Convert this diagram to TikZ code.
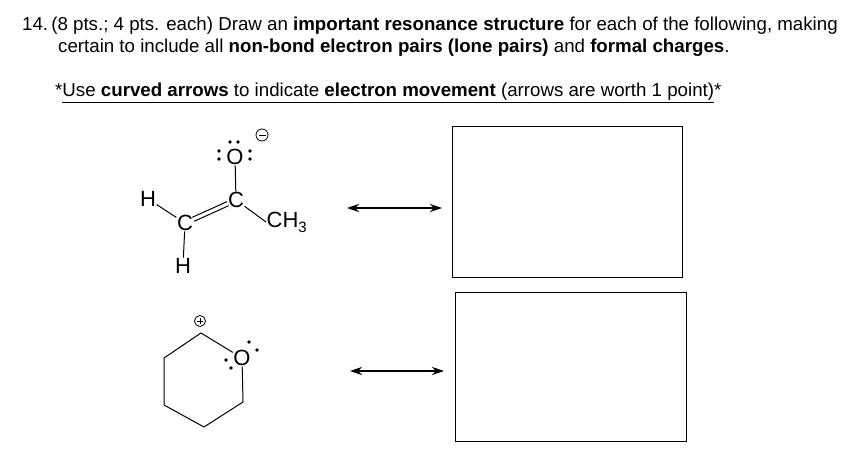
\documentclass[tikz,border=0pt]{standalone}
\usepackage{fontspec}
\setmainfont{Liberation Sans}
\usetikzlibrary{arrows.meta,calc}
\begin{document}
\begin{tikzpicture}[x=1pt,y=-1pt,
  txt/.style={anchor=base west,inner sep=0,font=\fontsize{18.7}{22}\selectfont},
  atom/.style={inner sep=0.5,font=\fontsize{22}{24}\selectfont},
  bond/.style={line width=1pt},
  dot/.style={fill=black,circle,inner sep=0,minimum size=3.8pt},
  ansbox/.style={draw,line width=1pt},
  res/.style={line width=1.1pt,{Stealth[length=12pt,width=8pt]}-{Stealth[length=12pt,width=8pt]}}]
\useasboundingbox (0,0) rectangle (851,457);
\node[txt] (l1) at (22,31) {14.\,(8 pts.; 4 pts. each) Draw an \textbf{important resonance structure} for each of the following, making};
\node[txt] (l2) at (58,53) {certain to include all \textbf{non-bond electron pairs (lone pairs)} and \textbf{formal charges}.};
\node[txt] (l3) at (55,97) {*\underline{Use \textbf{curved arrows} to indicate \textbf{electron movement} (arrows are worth 1 point)}*};
% molecule 1
\node[atom] (O) at (235,157) {O};
\node[atom] (C2) at (236,200) {C};
\node[atom] (C1) at (185,223) {C};
\node[atom] (H1) at (148,199) {H};
\node[atom] (H2) at (183,266) {H};
\node[atom,anchor=west] (CH3) at (266,222) {CH\raisebox{-5pt}{\fontsize{15}{16}\selectfont 3}};
\draw[bond] (O) -- (C2);
\draw[bond] (C1) -- (H1);
\draw[bond] (C1) -- (H2);
\draw[bond] (C2) -- (CH3.west);
\draw[bond] ($(C1)!9pt!(C2)!2.2pt!90:(C2)$) -- ($(C2)!9pt!(C1)!2.2pt!-90:(C1)$);
\draw[bond] ($(C1)!9pt!(C2)!2.2pt!-90:(C2)$) -- ($(C2)!9pt!(C1)!2.2pt!90:(C1)$);
\node[dot] (d1) at (230,142) {}; \node[dot] (d2) at (238,142) {};
\node[dot] (d3) at (219,151) {}; \node[dot] (d4) at (219,159) {};
\node[dot] (d5) at (250,151) {}; \node[dot] (d6) at (250,159) {};
\node[draw,circle,minimum size=12pt,inner sep=0,line width=0.8pt] (m) at (262,135) {};
\draw[line width=0.9pt] ([xshift=-3.5pt]m.center) -- ([xshift=3.5pt]m.center);
% ring
\coordinate (r1) at (201,333);
\node[atom] (O2) at (242,358) {O};
\coordinate (r3) at (243,402);
\coordinate (r4) at (204,427);
\coordinate (r5) at (164,405);
\coordinate (r6) at (164,358);
\draw[bond,line join=round] (O2) -- (r1) -- (r6) -- (r5) -- (r4) -- (r3) -- (O2);
\node[dot] (e1) at (226,360) {}; \node[dot] (e2) at (231,368) {};
\node[dot] (e3) at (249,342) {}; \node[dot] (e4) at (257,350) {};
\node[draw,circle,minimum size=11pt,inner sep=0,line width=0.8pt] (p) at (200,321) {};
\draw[line width=0.9pt] ([xshift=-3pt]p.center) -- ([xshift=3pt]p.center) ([yshift=-3pt]p.center) -- ([yshift=3pt]p.center);
% arrows
\coordinate (a1) at (347,208); \coordinate (a2) at (442,208);
\draw[res] (a1) -- (a2);
\coordinate (b1) at (350,371); \coordinate (b2) at (444,371);
\draw[res] (b1) -- (b2);
\draw[ansbox] (452,127) rectangle (682,277);
\draw[ansbox] (455,292) rectangle (686,441);
\end{tikzpicture}
\end{document}
